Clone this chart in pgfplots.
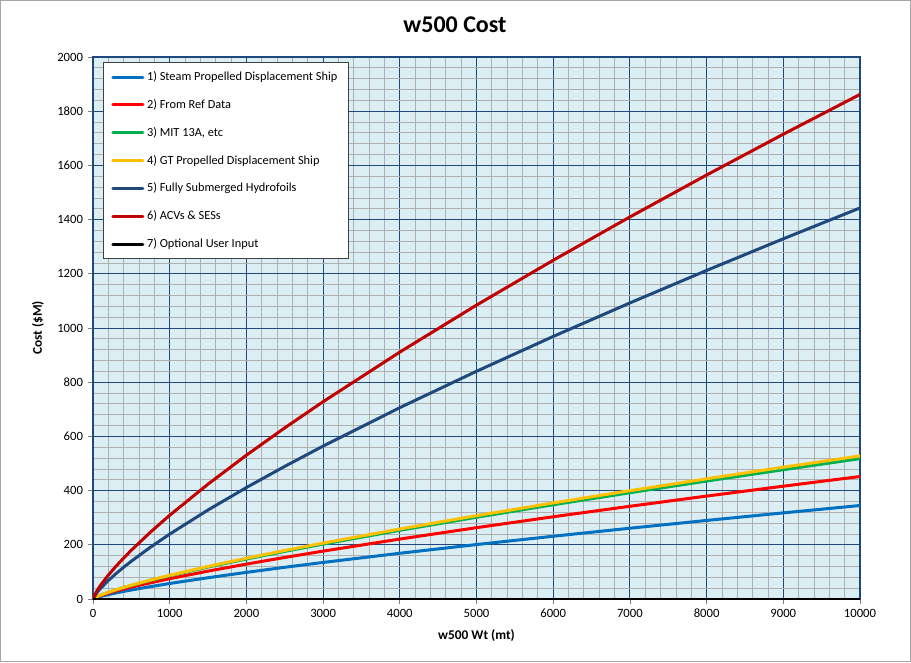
\documentclass[border=0pt]{standalone}
\usepackage{pgfplots}
\usepackage{pgfplotstable}
\pgfplotsset{compat=1.18}
\usepackage{fontspec}
\setmainfont{Carlito}
\definecolor{bgblue}{HTML}{DBEEF4}
\definecolor{gridblue}{HTML}{1F497D}
\definecolor{mingray}{HTML}{AFAFAF}
\definecolor{steam}{HTML}{0070C0}
\definecolor{refred}{HTML}{FF0000}
\definecolor{mitgreen}{HTML}{00B050}
\definecolor{gtyellow}{HTML}{FFC000}
\definecolor{hydro}{HTML}{1F497D}
\definecolor{acv}{HTML}{C00000}
\pgfplotstableread{
x     steam  ref    mit    gt     hydro   acv
0     0      0      0      0      0       0
50    5.5    7.3    8.3    8.5    23.1    29.9
100   9.5    12.4   14.3   14.5   39.7    51.3
200   16.3   21.4   24.5   25.0   68.3    88.1
300   22.4   29.3   33.6   34.3   93.7    120.8
400   28.0   36.7   42.1   42.9   117.2   151.2
500   33.3   43.7   50.1   51.0   139.5   180.0
750   45.7   59.9   68.7   70.0   191.3   246.9
1000  57.3   75.0   86.0   87.6   239.5   309.0
1500  78.5   102.9  117.9  120.2  328.5   423.9
2000  98.3   128.8  147.6  150.5  411.3   530.7
2500  117.0  153.3  175.7  179.1  489.4   631.5
3000  134.9  176.7  202.5  206.4  564.2   728.0
4000  168.8  221.2  253.5  258.4  706.1   911.1
5000  200.9  263.2  301.7  307.5  840.3   1084.4
6000  231.6  303.5  347.8  354.5  968.8   1250.0
7000  261.2  342.2  392.2  399.8  1092.5  1409.8
8000  289.9  379.8  435.2  443.6  1212.4  1564.5
9000  317.8  416.3  477.1  486.3  1329.2  1715.1
10000 345.0  452.0  518.0  528.0  1443.0  1862.0
}\costdata
\begin{document}
\begin{tikzpicture}
\path[use as bounding box, fill=white] (-69.75pt,-47.25pt) rectangle (613.5pt,449.25pt);
\draw[gray!70, line width=0.75pt] (-69.375pt,-46.875pt) rectangle (613.125pt,448.875pt);
\begin{axis}[
  scale only axis, width=575.25pt, height=406.5pt,
  xmin=0, xmax=10000, ymin=0, ymax=2000,
  xtick={0,1000,...,10000}, ytick={0,200,...,2000},
  minor x tick num=4, minor y tick num=4,
  grid=both,
  major grid style={gridblue, line width=0.75pt},
  minor grid style={mingray, line width=0.6pt},
  axis background/.style={fill=bgblue},
  axis line style={gridblue, line width=1.5pt},
  tick pos=left, tick align=outside, major tick length=4pt, minor tick length=0pt,
  major tick style={gray, line width=0.6pt},
  scaled ticks=false,
  /pgf/number format/assume math mode=true,
  /pgf/number format/set thousands separator={},
  ticklabel style={font=\fontsize{9.5}{11}\selectfont},
  xlabel={w500 Wt (mt)}, ylabel={Cost (\$M)},
  every axis x label/.style={at={(axis description cs:0.5,0)}, anchor=center, yshift=-27.75pt, font=\fontsize{10}{12}\selectfont\bfseries},
  every axis y label/.style={at={(axis description cs:0,0.5)}, rotate=90, anchor=center, yshift=41.25pt, font=\fontsize{10}{12}\selectfont\bfseries},
  legend cell align=left,
  legend image code/.code={\draw[#1] (0pt,0pt) -- (22.5pt,0pt);},
  legend style={at={(0.013,0.991)}, anchor=north west, font=\fontsize{9.25}{11}\selectfont,
    draw=black!75, line width=0.6pt, fill=white, inner xsep=6pt, inner ysep=5pt, row sep=8.6pt},
  every axis plot/.append style={line width=2.25pt, line join=round, line cap=round},
]
\addplot[steam, no markers] table[x=x, y=steam] {\costdata};
\addlegendentry{1) Steam Propelled Displacement Ship}
\addplot[refred, no markers] table[x=x, y=ref] {\costdata};
\addlegendentry{2) From Ref Data}
\addplot[mitgreen, no markers] table[x=x, y=mit] {\costdata};
\addlegendentry{3) MIT 13A, etc}
\addplot[gtyellow, no markers] table[x=x, y=gt] {\costdata};
\addlegendentry{4) GT Propelled Displacement Ship}
\addplot[hydro, no markers] table[x=x, y=hydro] {\costdata};
\addlegendentry{5) Fully Submerged Hydrofoils}
\addplot[acv, no markers] table[x=x, y=acv] {\costdata};
\addlegendentry{6) ACVs \& SESs}
\addlegendimage{black, line width=2.25pt}
\addlegendentry{7) Optional User Input}
\draw[black, line width=2.25pt] (rel axis cs:0,0) -- (rel axis cs:1,0);
\end{axis}
\node[font=\fontsize{18}{22}\selectfont\bfseries] at (271.5pt,430.5pt) {w500 Cost};
\end{tikzpicture}
\end{document}
